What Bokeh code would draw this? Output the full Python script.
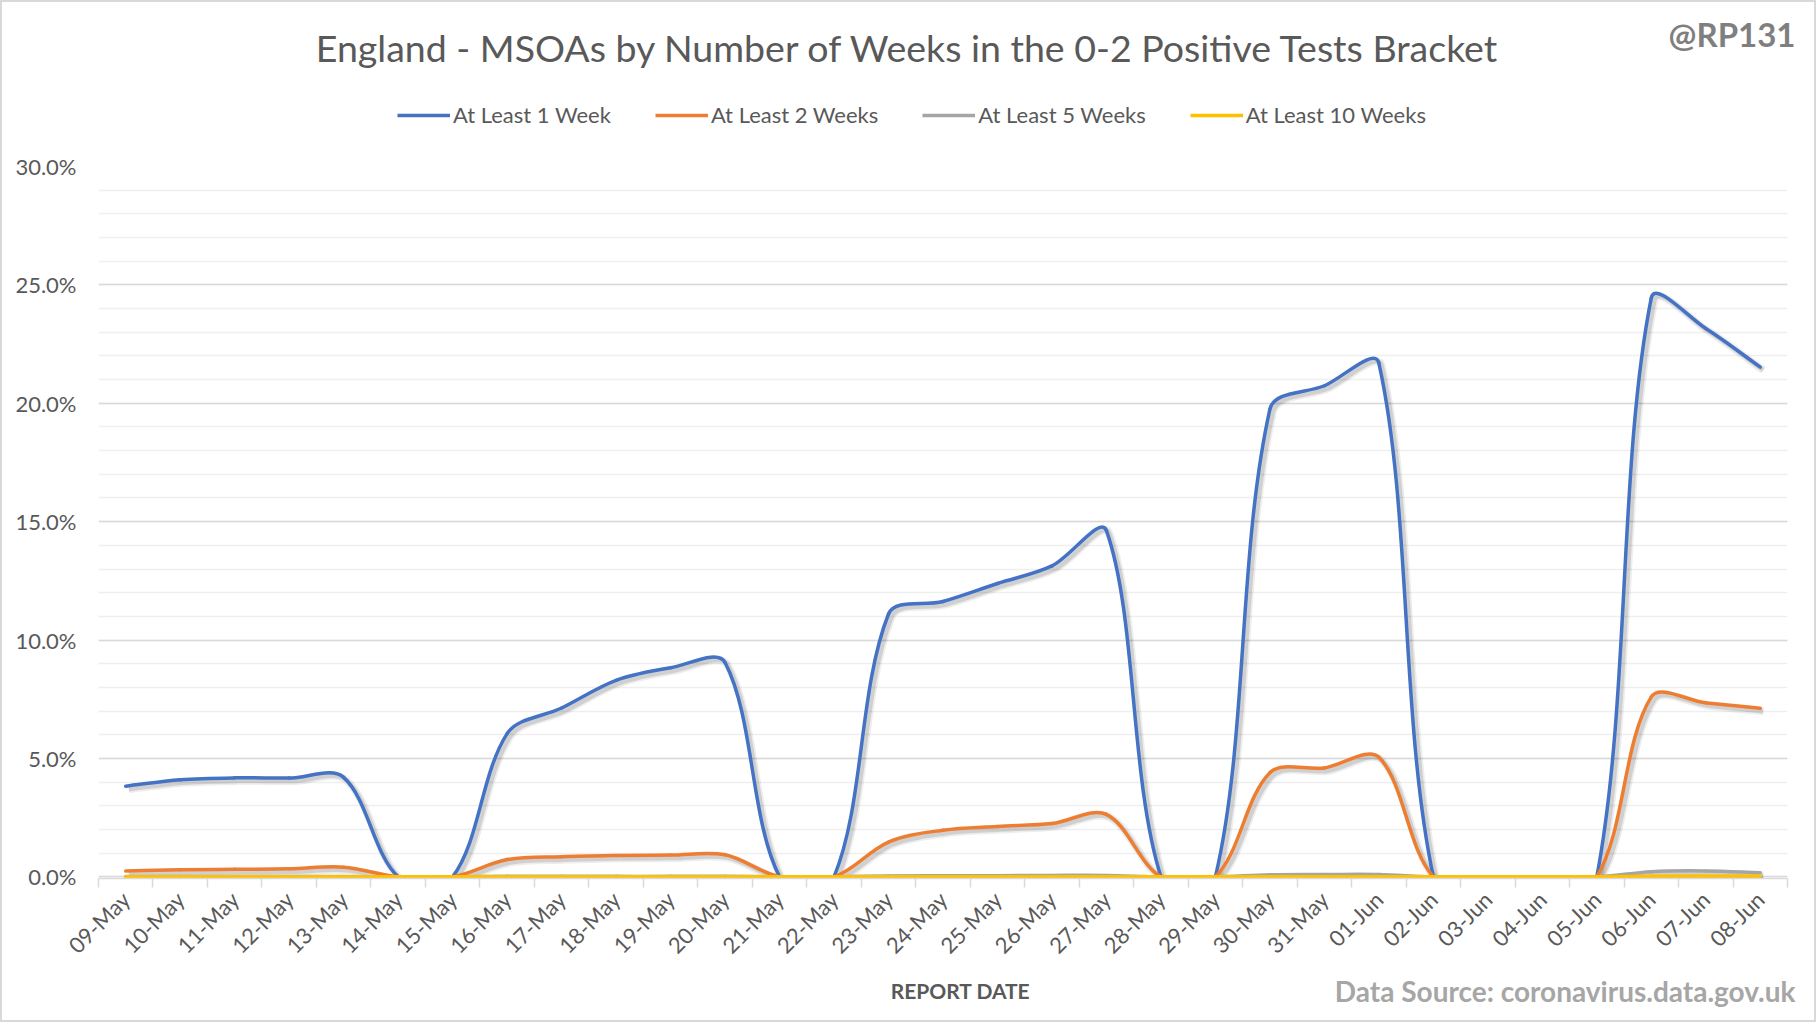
import math
import numpy as np
from bokeh.plotting import figure
from bokeh.layouts import column, row
from bokeh.models import (Range1d, FixedTicker, SingleIntervalTicker,
                          PrintfTickFormatter, Label, Legend, LegendItem)
from bokeh.embed import file_html
from bokeh.resources import INLINE

# ---- data: share of MSOAs (%) by report date ----
dates = ['09-May', '10-May', '11-May', '12-May', '13-May', '14-May', '15-May',
         '16-May', '17-May', '18-May', '19-May', '20-May', '21-May', '22-May',
         '23-May', '24-May', '25-May', '26-May', '27-May', '28-May', '29-May',
         '30-May', '31-May', '01-Jun', '02-Jun', '03-Jun', '04-Jun', '05-Jun',
         '06-Jun', '07-Jun', '08-Jun']

at_least_1 = [3.83, 4.10, 4.18, 4.17, 4.20, 0.0, 0.0, 6.05, 7.13, 8.30, 8.83, 9.05,
              0.0, 0.0, 11.10, 11.63, 12.39, 13.13, 14.62, 0.0, 0.0, 19.75, 20.74,
              21.70, 0.0, 0.0, 0.0, 0.0, 24.45, 23.16, 21.53]
at_least_2 = [0.25, 0.30, 0.32, 0.34, 0.41, 0.0, 0.0, 0.73, 0.85, 0.90, 0.92, 0.93,
              0.0, 0.0, 1.47, 1.97, 2.13, 2.25, 2.64, 0.0, 0.0, 4.40, 4.60,
              5.05, 0.0, 0.0, 0.0, 0.0, 7.60, 7.35, 7.12]
at_least_5 = [0.01, 0.01, 0.01, 0.01, 0.01, 0.0, 0.0, 0.02, 0.02, 0.02, 0.02, 0.03,
              0.0, 0.0, 0.04, 0.05, 0.05, 0.06, 0.06, 0.0, 0.0, 0.09, 0.10,
              0.10, 0.0, 0.0, 0.0, 0.0, 0.22, 0.25, 0.17]
at_least_10 = [0.0, 0.0, 0.0, 0.0, 0.0, 0.0, 0.0, 0.0, 0.0, 0.0, 0.0, 0.0,
               0.0, 0.0, 0.0, 0.0, 0.0, 0.0, 0.0, 0.0, 0.0, 0.0, 0.0,
               0.0, 0.0, 0.0, 0.0, 0.0, 0.03, 0.04, 0.03]

series_names = ['At Least 1 Week', 'At Least 2 Weeks', 'At Least 5 Weeks', 'At Least 10 Weeks']
series_values = [at_least_1, at_least_2, at_least_5, at_least_10]
series_colors = ['#4472C4', '#ED7D31', '#A5A5A5', '#FFC000']

TEXT = "#595959"
FONT = "Lato"

# ---- layout: header strip, chart, footer strip inside a thin grey frame ----
EDGE = 2
W = 1816 - 2 * EDGE
TOP_H, MAIN_H, BOT_H = 138, 835, 45
BORDER_L, BORDER_R, BORDER_T, BORDER_B = 96, 27, 26, 97
Y_MIN, Y_MAX = -0.07, 30.0
n = len(dates)


def strip(height):
    """A blank figure whose frame fills it, with pixel coordinates (y from the top)."""
    f = figure(width=W, height=height, output_backend="svg", toolbar_location=None,
               x_range=Range1d(0, W), y_range=Range1d(height, 0),
               x_axis_location=None, y_axis_location=None, min_border=0,
               min_border_left=0, min_border_right=0, min_border_top=0, min_border_bottom=0,
               background_fill_color="white", border_fill_color="white")
    f.outline_line_color = None
    f.grid.visible = False
    return f


# header: title, handle and legend
top = strip(TOP_H)
top.add_layout(Label(x=906, y=45, text="England - MSOAs by Number of Weeks in the 0-2 Positive Tests Bracket",
                     text_align="center", text_baseline="middle", text_font=FONT,
                     text_font_size="37.5px", text_color=TEXT))
top.add_layout(Label(x=1793, y=31, text="@RP131", text_align="right", text_baseline="middle",
                     text_font=FONT, text_font_style="bold", text_font_size="33px",
                     text_color="#7f7f7f"))
legend_items = []
for name, color in zip(series_names, series_colors):
    # legend proxy: a line renderer that has nothing to draw on the canvas
    swatch = top.line(x=np.array([np.nan]), y=np.array([np.nan]), line_color=color, line_width=3.5)
    legend_items.append(LegendItem(label=name, renderers=[swatch]))
top.add_layout(Legend(items=legend_items, orientation="horizontal", location=(395, 12),
                      glyph_width=53, glyph_height=22, label_standoff=3, spacing=44,
                      padding=0, margin=0, border_line_color=None, background_fill_alpha=0,
                      label_text_font=FONT, label_text_font_size="22px",
                      label_text_color=TEXT, label_height=22))

# chart
p = figure(width=W, height=MAIN_H, output_backend="svg", toolbar_location=None,
           x_range=Range1d(-0.5, n - 0.5), y_range=Range1d(Y_MIN, Y_MAX),
           x_axis_location="below", y_axis_location="left",
           min_border_left=BORDER_L, min_border_right=BORDER_R,
           min_border_top=BORDER_T, min_border_bottom=BORDER_B,
           background_fill_color="white", border_fill_color="white")
p.outline_line_color = None

FRAME_W = W - BORDER_L - BORDER_R
FRAME_H = MAIN_H - BORDER_T - BORDER_B
PX_X = FRAME_W / n                      # pixels per category
PX_Y = FRAME_H / (Y_MAX - Y_MIN)        # pixels per percentage point

yax = p.yaxis[0]
yax.ticker = SingleIntervalTicker(interval=5, num_minor_ticks=5)
yax.formatter = PrintfTickFormatter(format="%.1f%%")
yax.axis_line_color = None
yax.major_tick_line_color = None
yax.minor_tick_line_color = None
yax.major_label_text_font = FONT
yax.major_label_text_font_size = "22px"
yax.major_label_text_color = TEXT
yax.major_label_standoff = 16
p.ygrid.grid_line_color = "#d9d9d9"
p.ygrid.grid_line_width = 1.5
p.ygrid.minor_grid_line_color = "#efefef"
p.ygrid.minor_grid_line_width = 1.5
p.xgrid.visible = False

# date labels under each category, tick marks between categories
xax = p.xaxis[0]
xax.ticker = FixedTicker(ticks=list(range(n)), minor_ticks=[i - 0.5 for i in range(n + 1)])
xax.major_label_overrides = {i: d for i, d in enumerate(dates)}
xax.axis_line_color = "#d9d9d9"
xax.axis_line_width = 1.5
xax.major_tick_line_color = None
xax.major_tick_in = 0
xax.major_tick_out = 0
xax.minor_tick_line_color = "#d9d9d9"
xax.minor_tick_line_width = 1.5
xax.minor_tick_in = 0
xax.minor_tick_out = 9
xax.major_label_orientation = math.pi / 4
xax.major_label_text_font = FONT
xax.major_label_text_font_size = "22px"
xax.major_label_text_color = TEXT
xax.major_label_standoff = 8


def smooth_segments(vals, t=1.0 / 3.0):
    """Bezier control points for a smoothed line, arms weighted by on-screen segment length."""
    xs = np.arange(len(vals), dtype=float)
    ys = np.asarray(vals, dtype=float)
    px, py = xs * PX_X, ys * PX_Y
    m = len(vals)
    arm_in = np.zeros((m, 2))
    arm_out = np.zeros((m, 2))
    for i in range(m):
        i0, i2 = max(i - 1, 0), min(i + 1, m - 1)
        tx, ty = px[i2] - px[i0], py[i2] - py[i0]
        d_in = math.hypot(px[i] - px[i0], py[i] - py[i0])
        d_out = math.hypot(px[i2] - px[i], py[i2] - py[i])
        tot = d_in + d_out
        if tot == 0:
            continue
        arm_in[i] = (-tx * t * d_in / tot, -ty * t * d_in / tot)
        arm_out[i] = (tx * t * d_out / tot, ty * t * d_out / tot)
    return dict(
        x0=xs[:-1], y0=ys[:-1], x1=xs[1:], y1=ys[1:],
        cx0=(px[:-1] + arm_out[:-1, 0]) / PX_X, cy0=(py[:-1] + arm_out[:-1, 1]) / PX_Y,
        cx1=(px[1:] + arm_in[1:, 0]) / PX_X, cy1=(py[1:] + arm_in[1:, 1]) / PX_Y,
    )


segs = [smooth_segments(v) for v in series_values]

# soft drop shadow under each line (offset right and down)
sdx, sdy = 3.0 / PX_X, -3.0 / PX_Y
for s in segs:
    sh = {k: (v + sdx if k.startswith(('x', 'cx')) else v + sdy) for k, v in s.items()}
    p.bezier(line_color="black", line_alpha=0.07, line_width=8, line_cap="butt", **sh)
    p.bezier(line_color="black", line_alpha=0.12, line_width=4.5, line_cap="butt", **sh)

for s, color in zip(segs, series_colors):
    p.bezier(line_color=color, line_width=3.5, line_cap="round", **s)

# footer: axis title and source note
bot = strip(BOT_H)
bot.add_layout(Label(x=958, y=15, text="REPORT DATE", text_align="center", text_baseline="middle",
                     text_font=FONT, text_font_style="bold", text_font_size="21px",
                     text_color=TEXT))
bot.add_layout(Label(x=1793, y=15, text="Data Source: coronavirus.data.gov.uk",
                     text_align="right", text_baseline="middle", text_font=FONT,
                     text_font_style="bold", text_font_size="28px", text_color="#a6a6a6"))

page = column(row(top), row(p), row(bot), spacing=0)
page.styles = {"border": f"{EDGE}px solid #d9d9d9", "box-sizing": "content-box"}

open("out.html", "w").write(file_html(page, INLINE))
